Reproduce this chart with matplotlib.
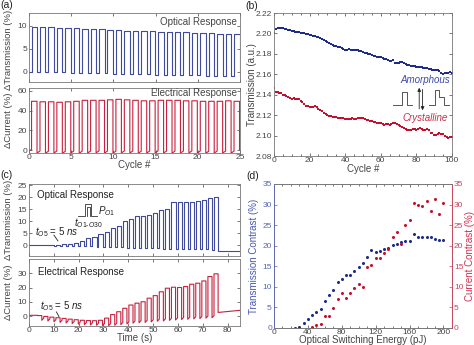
import matplotlib
matplotlib.use("Agg")
import matplotlib.pyplot as plt
import numpy as np

plt.rcParams['font.family'] = ['Liberation Sans', 'DejaVu Sans']
plt.rcParams['mathtext.fontset'] = 'custom'
plt.rcParams['mathtext.rm'] = 'Liberation Sans'
plt.rcParams['mathtext.it'] = 'Liberation Sans:italic'

# ---- (a) cycling, 25 cycles ----
a_opt_high = [9.8, 9.8, 9.7, 9.6, 9.6, 9.5, 9.4, 9.4, 9.3, 9.2, 9.0, 8.9, 8.9,
              8.8, 8.8, 8.7, 8.7, 8.6, 8.6, 8.5, 8.4, 8.4, 8.3, 8.3, 8.3]
a_opt_low = [0.0, 0.0, -0.1, -0.1, -0.2, -0.2, -0.3, -0.3, -0.3, -0.4, -0.4, -0.5, -0.5,
             -0.5, -0.6, -0.6, -0.6, -0.7, -0.7, -0.7, -0.8, -0.8, -0.8, -0.8, -1.0]
a_ele_high = [49.5, 49.0, 49.0, 48.5, 49.0, 49.5, 50.5, 50.5, 50.5, 51.0, 51.5, 51.0, 50.5,
              50.0, 50.0, 50.5, 50.5, 50.5, 50.0, 50.0, 49.5, 49.5, 49.5, 50.0, 49.5]
a_ele_low = [-1.0, -1.2, -1.0, -1.3, -1.0, -1.2, -1.0, -0.8, -1.0, -1.1, -0.9, -1.0, -1.2,
             -1.0, -0.8, -1.0, -1.1, -1.0, -0.9, -1.0, -1.2, -1.0, -1.0, -1.1, 2.0]

# ---- (b) transmission vs cycle ----
b_cycle = np.arange(0, 101)
b_amorph = [2.2000, 2.2048, 2.2050, 2.2049, 2.2051, 2.2052, 2.2048, 2.2040, 2.2032, 2.2030,
            2.2028, 2.2022, 2.2018, 2.2016, 2.2012, 2.2008, 2.2003, 2.2000, 2.1998, 2.1990,
            2.1985, 2.1980, 2.1975, 2.1972, 2.1968, 2.1962, 2.1955, 2.1948, 2.1940, 2.1928,
            2.1915, 2.1905, 2.1898, 2.1890, 2.1880, 2.1875, 2.1870, 2.1865, 2.1860, 2.1852,
            2.1835, 2.1838, 2.1845, 2.1842, 2.1840, 2.1842, 2.1840, 2.1835, 2.1832, 2.1825,
            2.1818, 2.1810, 2.1805, 2.1800, 2.1795, 2.1790, 2.1782, 2.1778, 2.1772, 2.1770,
            2.1768, 2.1760, 2.1752, 2.1745, 2.1738, 2.1728, 2.1732, 2.1740, 2.1712, 2.1710,
            2.1715, 2.1725, 2.1722, 2.1710, 2.1700, 2.1695, 2.1690, 2.1685, 2.1680, 2.1678,
            2.1675, 2.1672, 2.1670, 2.1668, 2.1666, 2.1665, 2.1660, 2.1655, 2.1650, 2.1645,
            2.1640, 2.1642, 2.1640, 2.1628, 2.1612, 2.1605, 2.1610, 2.1608, 2.1615, 2.1620,
            2.1612]
b_cryst = [2.1466, 2.1426, 2.1422, 2.1420, 2.1412, 2.1400, 2.1398, 2.1388, 2.1380, 2.1372,
           2.1362, 2.1365, 2.1360, 2.1358, 2.1360, 2.1340, 2.1330, 2.1310, 2.1290, 2.1285,
           2.1280, 2.1282, 2.1280, 2.1285, 2.1275, 2.1257, 2.1248, 2.1236, 2.1220, 2.1212,
           2.1200, 2.1195, 2.1190, 2.1184, 2.1180, 2.1178, 2.1175, 2.1172, 2.1170, 2.1168,
           2.1164, 2.1162, 2.1158, 2.1165, 2.1170, 2.1165, 2.1162, 2.1168, 2.1172, 2.1170,
           2.1172, 2.1160, 2.1150, 2.1148, 2.1142, 2.1138, 2.1135, 2.1130, 2.1125, 2.1122,
           2.1125, 2.1118, 2.1108, 2.1112, 2.1115, 2.1108, 2.1116, 2.1122, 2.1125, 2.1112,
           2.1100, 2.1092, 2.1080, 2.1075, 2.1066, 2.1058, 2.1050, 2.1055, 2.1068, 2.1062,
           2.1059, 2.1065, 2.1070, 2.1062, 2.1052, 2.1058, 2.1066, 2.1050, 2.1030, 2.1025,
           2.1006, 2.1010, 2.1016, 2.1022, 2.1020, 2.1012, 2.1000, 2.0990, 2.0977, 2.0985,
           2.0984]

# ---- (c) 30 pulses of increasing energy ----
c_first = 3.5
c_period = 2.45
c_width = 1.65
c_opt_high = [0.0, 0.0, 0.1, 0.2, 0.4, 0.7, 1.0, 1.6, 2.8, 3.5, 4.5, 5.5, 7.0, 8.0, 10.0,
              11.0, 12.0, 12.3, 12.5, 13.3, 14.5, 15.0, 17.8, 18.2, 17.8, 18.0, 18.6, 19.0, 19.6, 20.0]
c_opt_low = [-0.1, -0.1, -0.2, -0.2, -0.3, -0.3, -0.4, -0.5, -0.5, -0.6, -0.7, -0.7, -0.8, -0.9, -1.0,
             -1.0, -1.1, -1.2, -1.2, -1.3, -1.4, -1.4, -1.5, -1.5, -1.6, -1.6, -1.7, -1.7, -1.8, -2.3]
c_ele_high = [0.3, -0.3, -0.8, -1.2, -1.7, -2.2, -2.6, -3.0, -3.2, -3.3, -3.0, -1.5, 1.0, 3.0, 5.4,
              7.7, 9.0, 10.0, 12.5, 14.3, 17.0, 19.5, 20.2, 20.0, 20.7, 22.3, 23.0, 24.6, 27.7, 29.6]
c_ele_low = [-1.5, -2.0, -2.5, -3.0, -3.4, -3.8, -4.2, -4.6, -4.8, -5.0, -5.2, -5.3, -5.0, -4.5, -4.0,
             -3.5, -3.2, -3.0, -2.6, -2.2, -2.0, -1.6, -1.3, -1.0, -0.8, -0.5, -0.3, 0.0, 0.3, 4.0]

# ---- (d) contrast vs switching energy ----
d_energy_t = [25, 30, 35, 40, 45, 50, 55, 60, 65, 70, 75, 80, 85, 90, 95, 100, 105, 110,
              115, 120, 125, 130, 135, 140, 145, 150, 155, 160, 165, 170, 175, 180, 185, 190, 195, 200]
d_trans = [0.1, 0.3, 1.1, 2.3, 3.1, 3.9, 4.7, 6.5, 8.1, 9.3, 11.1, 11.9, 13.0, 13.0, 13.8, 14.8, 15.7, 17.2,
           18.9, 18.4, 18.6, 19.1, 19.5, 20.1, 20.5, 20.9, 21.1, 21.2, 22.9, 22.0, 22.0, 22.0, 22.0, 21.7, 21.4, 21.4]
d_energy_c = [45, 50, 55, 60, 65, 70, 75, 80, 85, 90, 95, 100, 105, 110, 115, 120, 125,
              130, 135, 140, 145, 150, 155, 160, 165, 170, 175, 180, 185, 190, 195, 200]
d_curr = [0.3, 0.65, 1.05, 2.8, 2.9, 4.9, 7.0, 8.6, 7.3, 8.6, 9.8, 10.8, 9.9, 14.8, 15.4, 16.9, 16.9,
          18.3, 19.3, 22.1, 23.4, 20.4, 25.0, 26.2, 30.5, 30.0, 29.7, 30.8, 28.5, 31.3, 27.7, 30.4]

BLUE_L = '#3f4a9e'
RED_L = '#c8203e'
BLUE_D = '#1c2b8c'
RED_D = '#c4102c'
GRAY = '#444444'


def pulse_trace(starts, width, highs, lows, start_level, x_end, spike=0.0):
    xs, ys = [0.0], [start_level]
    prev = start_level
    for s, h, lo in zip(starts, highs, lows):
        xs += [s, s, s + width, s + width]
        ys += [prev, h, h, lo - spike]
        prev = lo
    xs.append(x_end)
    ys.append(prev)
    return xs, ys


def style(ax):
    for sp in ax.spines.values():
        sp.set_color('#777777')
        sp.set_linewidth(0.6)
    ax.tick_params(direction='in', top=True, right=True, labelsize=6, colors=GRAY,
                   length=2.5, width=0.5, pad=1.5)
    ax.tick_params(axis='x', pad=1)
    ax.tick_params(which='minor', direction='in', top=True, right=True, length=1.5, width=0.4)


fig = plt.figure(figsize=(4.74, 3.45), dpi=100)

# (a)
ax_a1 = fig.add_axes([0.0612, 0.7623, 0.445, 0.200])
ax_a2 = fig.add_axes([0.0612, 0.5565, 0.445, 0.1884])
a_starts = [k + 0.3 for k in range(len(a_opt_high))]
x, y = pulse_trace(a_starts, 0.65, a_opt_high, a_opt_low, 0.0, 25)
ax_a1.plot(x, y, color=BLUE_L, lw=0.8)
x, y = pulse_trace(a_starts, 0.65, a_ele_high, a_ele_low, 0.0, 25, spike=2.0)
ax_a2.plot(x, y, color=RED_L, lw=0.8)
ax_a1.set_xlim(0, 25)
ax_a2.set_xlim(0, 25)
ax_a1.set_ylim(-2.2, 12.8)
ax_a2.set_ylim(-3, 63)
ax_a1.set_yticks([0, 5, 10])
ax_a2.set_yticks([0, 20, 40, 60])
for ax in (ax_a1, ax_a2):
    ax.set_xticks([0, 5, 10, 15, 20, 25])
    style(ax)
ax_a1.tick_params(labelbottom=False)
ax_a1.set_ylabel('ΔTransmission (%)', fontsize=6.8, color=GRAY)
ax_a2.set_ylabel('ΔCurrent (%)', fontsize=6.8, color=GRAY)
ax_a1.yaxis.set_label_coords(-0.075, 0.47)
ax_a2.yaxis.set_label_coords(-0.075, 0.5)
ax_a2.set_xlabel('Cycle #', fontsize=7, color=GRAY)
ax_a2.xaxis.set_label_coords(0.5, -0.11)
ax_a1.text(0.985, 0.87, 'Optical Response', transform=ax_a1.transAxes, ha='right', va='center',
           fontsize=7, color=GRAY)
ax_a2.text(0.985, 0.92, 'Electrical Response', transform=ax_a2.transAxes, ha='right', va='center',
           fontsize=7, color=GRAY)

# (b)
ax_b = fig.add_axes([0.578, 0.5478, 0.3755, 0.4145])
ax_b.plot(b_cycle, b_amorph, 's', color=BLUE_D, ms=2.0, mew=0)
ax_b.plot(b_cycle, b_cryst, 's', color=RED_D, ms=2.0, mew=0)
ax_b.set_xlim(0, 100)
ax_b.set_ylim(2.08, 2.22)
ax_b.set_xticks(np.arange(0, 101, 20))
ax_b.set_xticks(np.arange(0, 101, 5), minor=True)
ax_b.set_yticks(np.arange(2.08, 2.2201, 0.02))
ax_b.set_yticklabels(['%.2f' % v for v in np.arange(2.08, 2.2201, 0.02)])
style(ax_b)
ax_b.set_ylabel('Transmission (a.u.)', fontsize=7, color=GRAY)
ax_b.yaxis.set_label_coords(-0.095, 0.5)
ax_b.set_xlabel('Cycle #', fontsize=7, color=GRAY)
ax_b.xaxis.set_label_coords(0.5, -0.058)
ax_b.text(0.85, 0.53, 'Amorphous', transform=ax_b.transAxes, ha='center', va='center',
          fontsize=7, style='italic', color='#3a4ab0')
ax_b.text(0.85, 0.266, 'Crystalline', transform=ax_b.transAxes, ha='center', va='center',
          fontsize=7, style='italic', color='#c8304a')
ax_b.plot([0.666, 0.717, 0.717, 0.745, 0.745, 0.773], [0.357, 0.357, 0.45, 0.45, 0.357, 0.357],
          color='#555555', lw=0.7, transform=ax_b.transAxes)
ax_b.plot([0.872, 0.904, 0.904, 0.927, 0.927, 0.957, 0.957, 0.985],
          [0.357, 0.357, 0.46, 0.46, 0.415, 0.415, 0.357, 0.357],
          color='#555555', lw=0.7, transform=ax_b.transAxes)
ax_b.annotate('', xy=(0.816, 0.497), xytext=(0.816, 0.31), xycoords='axes fraction',
              arrowprops=dict(arrowstyle='-|>', color='#222222', lw=0.6, mutation_scale=5))
ax_b.annotate('', xy=(0.835, 0.30), xytext=(0.835, 0.485), xycoords='axes fraction',
              arrowprops=dict(arrowstyle='-|>', color='#222222', lw=0.6, mutation_scale=5))

# (c)
ax_c1 = fig.add_axes([0.0612, 0.258, 0.445, 0.2087])
ax_c2 = fig.add_axes([0.0612, 0.0551, 0.445, 0.1942])
c_starts = [c_first + i * c_period for i in range(len(c_opt_high))]
x, y = pulse_trace(c_starts, c_width, c_opt_high, c_opt_low, -0.1, 85)
ax_c1.plot(x, y, color=BLUE_L, lw=0.8)
x, y = pulse_trace(c_starts, c_width, c_ele_high, c_ele_low, 0.5, 85, spike=1.5)
ax_c2.plot(x, y, color=RED_L, lw=0.8)
for ax in (ax_c1, ax_c2):
    ax.set_xlim(0, 85)
    ax.set_xticks(np.arange(0, 81, 10))
    style(ax)
ax_c1.set_ylim(-4.5, 25.5)
ax_c1.set_yticks([0, 5, 10, 15, 20, 25])
ax_c2.set_ylim(-7, 40)
ax_c2.set_yticks([0, 10, 20, 30])
ax_c1.tick_params(labelbottom=False)
ax_c1.set_ylabel('ΔTransmission (%)', fontsize=6.8, color=GRAY)
ax_c2.set_ylabel('ΔCurrent (%)', fontsize=6.8, color=GRAY)
ax_c1.yaxis.set_label_coords(-0.075, 0.5)
ax_c2.yaxis.set_label_coords(-0.075, 0.5)
ax_c2.set_xlabel('Time (s)', fontsize=7, color=GRAY)
ax_c2.xaxis.set_label_coords(0.5, -0.11)
ax_c1.text(0.04, 0.85, 'Optical Response', transform=ax_c1.transAxes, ha='left', va='center',
           fontsize=7, color='#222222')
ax_c2.text(0.041, 0.81, 'Electrical Response', transform=ax_c2.transAxes, ha='left', va='center',
           fontsize=7, color='#222222')
ax_c1.text(0.03, 0.33, '$t_{O5}$ = 5 $ns$', transform=ax_c1.transAxes, ha='left', va='center',
           fontsize=7, color='#222222')
ax_c1.plot([0.118, 0.137], [0.29, 0.21], color='#222222', lw=0.6, transform=ax_c1.transAxes)
ax_c2.text(0.05, 0.29, '$t_{O5}$ = 5 $ns$', transform=ax_c2.transAxes, ha='left', va='center',
           fontsize=7, color='#222222')
ax_c2.plot([0.13, 0.142], [0.21, 0.14], color='#222222', lw=0.6, transform=ax_c2.transAxes)
# pulse sketch
ax_c1.plot([0.231, 0.264, 0.264, 0.295, 0.295, 0.321], [0.555, 0.555, 0.72, 0.72, 0.555, 0.555],
           color='#333333', lw=0.6, transform=ax_c1.transAxes)
ax_c1.plot([0.273, 0.273, 0.287, 0.287], [0.555, 0.68, 0.68, 0.555],
           color='#333333', lw=0.6, transform=ax_c1.transAxes)
ax_c1.text(0.325, 0.62, '$P_{O1}$', transform=ax_c1.transAxes, ha='left', va='center',
           fontsize=7, color='#222222')
ax_c1.text(0.28, 0.46, '$t_{O1\\text{-}O30}$', transform=ax_c1.transAxes, ha='center', va='center',
           fontsize=7, color='#222222')

# (d)
ax_d = fig.add_axes([0.578, 0.0493, 0.3755, 0.4174])
ax_d2 = ax_d.twinx()
ax_d.plot(d_energy_t, d_trans, 'o', color=BLUE_D, ms=2.2, mew=0)
ax_d2.plot(d_energy_c, d_curr, 'o', color=RED_D, ms=2.2, mew=0)
ax_d.set_xlim(0, 210)
ax_d.set_ylim(0, 35)
ax_d2.set_ylim(0, 35)
ax_d.set_xticks(np.arange(0, 201, 40))
ax_d.set_xticks(np.arange(0, 211, 10), minor=True)
ax_d.set_yticks(np.arange(0, 36, 5))
ax_d2.set_yticks(np.arange(0, 36, 5))
for sp in ax_d.spines.values():
    sp.set_linewidth(0.6)
    sp.set_color('#777777')
for sp in ax_d2.spines.values():
    sp.set_linewidth(0.6)
    sp.set_color('#777777')
ax_d2.spines['left'].set_color('#5a66b8')
ax_d2.spines['right'].set_color('#d04058')
ax_d.tick_params(axis='x', which='both', direction='in', top=True, labelsize=6, colors=GRAY,
                 length=2.5, width=0.5, pad=1)
ax_d.tick_params(axis='x', which='minor', length=1.5)
ax_d.tick_params(axis='y', direction='in', labelsize=6, colors='#5a66b8', length=2.5, width=0.5, pad=1.5)
ax_d2.tick_params(axis='y', direction='in', labelsize=6, colors='#d04058', length=2.5, width=0.5, pad=1.5)
ax_d.set_ylabel('Transmission Contrast (%)', fontsize=7, color='#4a58b0')
ax_d.yaxis.set_label_coords(-0.085, 0.5)
ax_d2.set_ylabel('Current Contrast (%)', fontsize=7, color='#d03050', labelpad=1)
ax_d.set_xlabel('Optical Switching Energy (pJ)', fontsize=7, color=GRAY)
ax_d.xaxis.set_label_coords(0.5, -0.05)

# panel letters
fig.text(0.0, 0.985, '(a)', fontsize=7.5, color='#222222', va='center')
fig.text(0.518, 0.982, '(b)', fontsize=7.5, color='#222222', va='center')
fig.text(0.0, 0.493, '(c)', fontsize=7.5, color='#222222', va='center')
fig.text(0.520, 0.490, '(d)', fontsize=7.5, color='#222222', va='center')

fig.savefig('out.png', dpi=100)
